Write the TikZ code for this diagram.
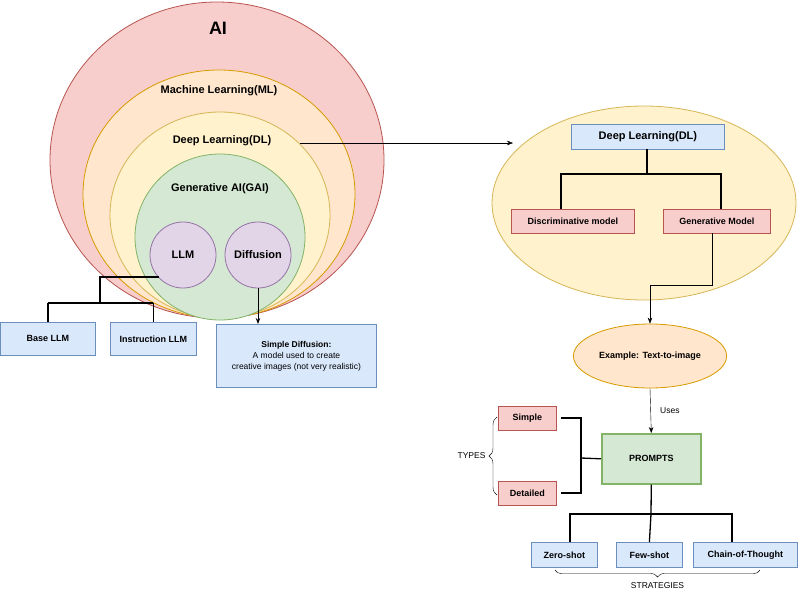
\documentclass[tikz,border=0pt]{standalone}
\usepackage{fontspec}
\setmainfont{Liberation Sans}
\usetikzlibrary{decorations.pathreplacing,arrows.meta,shapes.geometric}
\definecolor{rf}{HTML}{F8CECC}\definecolor{rs}{HTML}{B85450}
\definecolor{of}{HTML}{FFE6CC}\definecolor{os}{HTML}{D79B00}
\definecolor{yf}{HTML}{FFF2CC}\definecolor{ys}{HTML}{D6B656}
\definecolor{gf}{HTML}{D5E8D4}\definecolor{gs}{HTML}{82B366}
\definecolor{pf}{HTML}{E1D5E7}\definecolor{ps}{HTML}{9673A6}
\definecolor{bf}{HTML}{DAE8FC}\definecolor{bs}{HTML}{6C8EBF}
\begin{document}
\begin{tikzpicture}[x=1pt,y=-1pt,
  lbl/.style={font=\bfseries\fontsize{11}{13}\selectfont},
  box/.style={draw=#1s,fill=#1f,thick,font=\bfseries\fontsize{9}{11}\selectfont,inner sep=0pt,anchor=north west},
  tree/.style={line width=1.3pt},
  arr/.style={-{Stealth[length=6pt]},thick}]
\useasboundingbox (0,0) rectangle (800,606);
\fill[white] (0,0) rectangle (800,606);
% nested circles
\draw[draw=rs,fill=rf,thick] (217,160) ellipse [x radius=167,y radius=158];
\draw[draw=os,fill=of,thick] (219,194) ellipse [x radius=136,y radius=124];
\draw[draw=ys,fill=yf,thick] (220,215) ellipse [x radius=110,y radius=103];
\draw[draw=gs,fill=gf,thick] (220,237) ellipse [x radius=85,y radius=83];
\node[font=\bfseries\fontsize{18}{20}\selectfont] (ai) at (218,28) {AI};
\node[lbl] (ml) at (219,91) {Machine Learning(ML)};
\node[lbl] (dl) at (222,141) {Deep Learning(DL)};
\node[lbl] (gai) at (220,189) {Generative AI(GAI)};
\node[circle,draw=ps,fill=pf,thick,minimum size=66pt,lbl] (llm) at (183,255) {LLM};
\node[circle,draw=ps,fill=pf,thick,minimum size=66pt,lbl] (dif) at (258,255) {Diffusion};
% left boxes
\node[box=b,minimum width=95pt,minimum height=33pt] (base) at (0,322) {Base LLM};
\node[box=b,minimum width=86pt,minimum height=33pt] (inst) at (110,322) {Instruction LLM};
\node[box=b,minimum width=160pt,minimum height=63pt,font=\fontsize{8.5}{11}\selectfont,align=center] (sd) at (216,324) {\textbf{Simple Diffusion:}\\A model used to create\\creative images (not very realistic)};
\coordinate (j1) at (100,277);
\draw[tree] (llm.south west|-j1) -- (j1) -- (100,303);
\draw[tree] (base.north|-0,303) -- (base.north);
\draw[tree] (inst.north|-0,303) -- (inst.north);
\draw[tree] (base.north|-0,303) -- (inst.north|-0,303);
\draw[arr] (dif.south) -- (dif.south|-sd.north);
% right ellipse
\draw[draw=ys,fill=yf,thick] (644,203) ellipse [x radius=152,y radius=97];
\draw[arr,thin] (300,143) -- (513,143);
\node[box=b,minimum width=153pt,minimum height=25pt,font=\bfseries\fontsize{11}{13}\selectfont] (dl2) at (571,124) {Deep Learning(DL)};
\node[box=r,minimum width=123pt,minimum height=24pt] (disc) at (511,209) {Discriminative model};
\node[box=r,minimum width=107pt,minimum height=24pt] (gen) at (663,209) {Generative Model};
\draw[tree] (647,149) -- (647,174);
\draw[tree] (561,209) -- (561,174) -- (721,174) -- (721,209);
\node[ellipse,draw=os,fill=of,thick,minimum width=126pt,minimum height=64pt,font=\bfseries\fontsize{9}{11}\selectfont] (ex) at (650,356) {Example: Text-to-image};
\draw[arr,thin] (712,233) -- (712,285) -- (650,285) -- (ex.north);
\node[box=g,line width=1.6pt,minimum width=99pt,minimum height=50pt] (pr) at (601,433) {PROMPTS};
\draw[arr,thin] (ex.south) -- (pr.north) node[midway,right=6pt,font=\fontsize{8.5}{10}\selectfont] {Uses};
\node[box=r,minimum width=58pt,minimum height=24pt] (simp) at (498,406) {Simple};
\node[box=r,minimum width=58pt,minimum height=24pt] (det) at (498,481) {Detailed};
\draw[tree] (561,418) -- (581,418) -- (581,493) -- (561,493);
\draw[tree] (581,458) -- (pr.west);
\draw[decorate,decoration={brace,amplitude=8pt}] (497,495) -- (497,417) node[midway,left=8pt,font=\fontsize{8.5}{10}\selectfont] (ty) {TYPES};
\node[box=b,minimum width=66pt,minimum height=25pt] (z) at (531,542) {Zero-shot};
\node[box=b,minimum width=66pt,minimum height=25pt] (f) at (616,542) {Few-shot};
\node[box=b,minimum width=104pt,minimum height=25pt] (c) at (693,542) {Chain-of-Thought};
\draw[tree] (pr.south) -- (651,514);
\draw[tree] (570,542) -- (570,514) -- (732,514) -- (732,542);
\draw[tree] (f.north) -- (651,514);
\draw[decorate,decoration={brace,mirror,amplitude=7pt}] (555,570) -- (760,570) node[midway,below=9pt,font=\fontsize{8.5}{10}\selectfont] (st) {STRATEGIES};
\end{tikzpicture}
\end{document}
